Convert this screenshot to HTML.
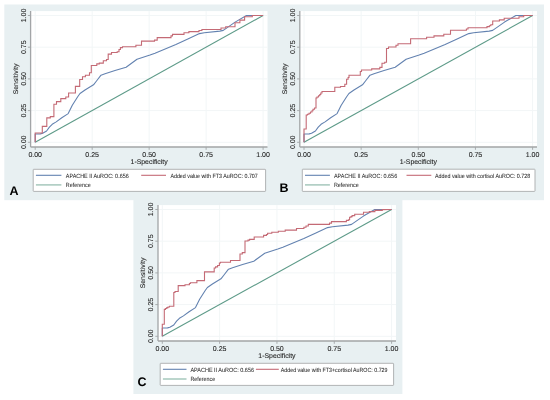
<!DOCTYPE html><html><head><meta charset="utf-8"><style>html,body{margin:0;padding:0;background:#fff;}body{width:550px;height:400px;overflow:hidden;}</style></head><body><svg width="550" height="400" viewBox="0 0 550 400" style="display:block;will-change:transform;filter:blur(0.45px);font-family:'Liberation Sans', sans-serif">
<style>text{fill:#262626;stroke:#262626;stroke-width:0.1px;text-rendering:geometricPrecision} .lg{stroke-width:0.04px}</style>
<rect x="0" y="0" width="550" height="400" fill="#ffffff"/>
<rect x="4.3" y="4.5" width="539.7" height="195.7" fill="#e8f0f2"/>
<rect x="133.4" y="190" width="269" height="204" fill="#e8f0f2"/>
<rect x="30.6" y="11.1" width="236.9" height="135.9" fill="#ffffff"/>
<path d="M35.2 11.1V147M30.6 142.3H267.5M92.18 11.1V147M30.6 110.6H267.5M149.15 11.1V147M30.6 78.9H267.5M206.12 11.1V147M30.6 47.2H267.5M263.1 11.1V147M30.6 15.5H267.5" stroke="#f2f6f7" stroke-width="1" fill="none"/>
<path d="M30.6 11.1V147 M30.6 147H267.5" stroke="#a2a5a7" stroke-width="1.3" fill="none"/>
<path d="M35.2 147V149.8M27.9 142.3H30.6M92.18 147V149.8M27.9 110.6H30.6M149.15 147V149.8M27.9 78.9H30.6M206.12 147V149.8M27.9 47.2H30.6M263.1 147V149.8M27.9 15.5H30.6" stroke="#a2a5a7" stroke-width="0.9" fill="none"/>
<text x="35.2" y="156.8" font-size="7" fill="#262626" text-anchor="middle">0.00</text>
<text transform="translate(26.2 142.3) rotate(-90)" font-size="7" fill="#262626" text-anchor="middle">0.00</text>
<text x="92.18" y="156.8" font-size="7" fill="#262626" text-anchor="middle">0.25</text>
<text transform="translate(26.2 110.6) rotate(-90)" font-size="7" fill="#262626" text-anchor="middle">0.25</text>
<text x="149.15" y="156.8" font-size="7" fill="#262626" text-anchor="middle">0.50</text>
<text transform="translate(26.2 78.9) rotate(-90)" font-size="7" fill="#262626" text-anchor="middle">0.50</text>
<text x="206.12" y="156.8" font-size="7" fill="#262626" text-anchor="middle">0.75</text>
<text transform="translate(26.2 47.2) rotate(-90)" font-size="7" fill="#262626" text-anchor="middle">0.75</text>
<text x="263.1" y="156.8" font-size="7" fill="#262626" text-anchor="middle">1.00</text>
<text transform="translate(26.2 15.5) rotate(-90)" font-size="7" fill="#262626" text-anchor="middle">1.00</text>
<text x="149.15" y="163.8" font-size="6.9" fill="#262626" text-anchor="middle">1-Specificity</text>
<text transform="translate(18.1 78.9) rotate(-90)" font-size="6.8" fill="#262626" text-anchor="middle">Sensitivity</text>
<path d="M35.2 142.3 L263.1 15.5" stroke="#5e9b89" stroke-width="1.1" fill="none"/>
<path d="M35.2 142.3 L35.2 134 L40.4 133.9 L42.7 133.3 L46.6 131 L49.4 127.2 L52.2 124.3 L56.2 121.9 L61.8 117.8 L68.2 113.6 L72.3 105.3 L77.7 96.8 L80 93.5 L85 90 L93.5 84.8 L96.5 81 L101 75.2 L105 73.8 L115 70.6 L126.1 67.2 L137 59.3 L150 55.1 L155 53.2 L175.9 44.6 L187.3 39.3 L199.5 33.6 L204.3 32.8 L219.8 31.1 L223.3 30.4 L235.1 22.1 L246.4 15.5 L263.1 15.5" stroke="#6382b0" stroke-width="1.1" fill="none" stroke-linejoin="round"/>
<path d="M35.2 142.3 L35.2 133 L42.3 133 L42.3 126.4 L46.8 126.4 L46.8 117.9 L50.3 117.9 L50.3 116.6 L53.9 116.6 L53.9 104.3 L56.5 104.3 L56.5 101.6 L60.8 101.6 L60.8 98.6 L65.8 98.6 L65.8 97 L68.6 97 L68.6 93 L75.4 93 L75.4 86.4 L79.7 86.4 L79.7 79.5 L82.5 79.5 L82.5 76.7 L85.4 76.7 L85.4 75.3 L89.5 75.3 L89.5 72.8 L91.3 72.8 L91.3 65.5 L96.8 65.5 L96.8 63.9 L99.3 63.9 L99.3 63.1 L103.3 63.1 L103.3 60.7 L106.5 60.7 L106.5 59.5 L108.2 59.5 L108.2 54.1 L111.5 54.1 L111.5 52.5 L117.2 52.5 L117.2 51.7 L119 51.7 L119 49.5 L120.4 49.5 L120.4 47.6 L122.5 47.6 L122.5 46.8 L135.9 46.8 L135.9 45.2 L141.5 45.2 L141.5 41.1 L154.5 41.1 L154.5 40.1 L157.2 40.1 L157.2 37.6 L171 37.6 L171 35.9 L172.5 35.9 L172.5 34.4 L184 34.4 L184 32.8 L188.9 32.8 L188.9 31.6 L199 31.6 L199 30.5 L201.9 30.5 L201.9 29.5 L221 29.5 L221 28 L225.7 28 L225.7 26.7 L235 26.7 L235 22.7 L239.9 22.7 L239.9 20.1 L244.6 20.1 L244.6 16.8 L252.3 16.8 L252.3 15.5 L263.1 15.5" stroke="#c46a75" stroke-width="1.1" fill="none"/>
<rect x="33.2" y="169.3" width="232.4" height="22.1" rx="0.6" fill="#ffffff" stroke="#a4a6a8" stroke-width="0.85"/>
<path d="M35.9 175.3H61.4" stroke="#6382b0" stroke-width="1.1"/>
<path d="M35.9 184.9H61.4" stroke="#a0c4b8" stroke-width="1.4"/>
<path d="M141.2 175.3H166" stroke="#c46a75" stroke-width="1.1"/>
<text class="lg" x="65.8" y="177.5" font-size="6.0" fill="#262626" textLength="62.9" lengthAdjust="spacingAndGlyphs">APACHE II AuROC: 0.656</text>
<text class="lg" x="65.8" y="186.9" font-size="6.0" fill="#262626" textLength="24.9" lengthAdjust="spacingAndGlyphs">Reference</text>
<text class="lg" x="170.4" y="177.5" font-size="6.0" fill="#262626" textLength="87.4" lengthAdjust="spacingAndGlyphs">Added value with FT3 AuROC: 0.707</text>
<rect x="299.8" y="11.1" width="237.2" height="135.9" fill="#ffffff"/>
<path d="M304 11.1V147M299.8 142.3H537M361.15 11.1V147M299.8 110.6H537M418.3 11.1V147M299.8 78.9H537M475.45 11.1V147M299.8 47.2H537M532.6 11.1V147M299.8 15.5H537" stroke="#f2f6f7" stroke-width="1" fill="none"/>
<path d="M299.8 11.1V147 M299.8 147H537" stroke="#a2a5a7" stroke-width="1.3" fill="none"/>
<path d="M304 147V149.8M297.1 142.3H299.8M361.15 147V149.8M297.1 110.6H299.8M418.3 147V149.8M297.1 78.9H299.8M475.45 147V149.8M297.1 47.2H299.8M532.6 147V149.8M297.1 15.5H299.8" stroke="#a2a5a7" stroke-width="0.9" fill="none"/>
<text x="304" y="156.8" font-size="7" fill="#262626" text-anchor="middle">0.00</text>
<text transform="translate(295.2 142.3) rotate(-90)" font-size="7" fill="#262626" text-anchor="middle">0.00</text>
<text x="361.15" y="156.8" font-size="7" fill="#262626" text-anchor="middle">0.25</text>
<text transform="translate(295.2 110.6) rotate(-90)" font-size="7" fill="#262626" text-anchor="middle">0.25</text>
<text x="418.3" y="156.8" font-size="7" fill="#262626" text-anchor="middle">0.50</text>
<text transform="translate(295.2 78.9) rotate(-90)" font-size="7" fill="#262626" text-anchor="middle">0.50</text>
<text x="475.45" y="156.8" font-size="7" fill="#262626" text-anchor="middle">0.75</text>
<text transform="translate(295.2 47.2) rotate(-90)" font-size="7" fill="#262626" text-anchor="middle">0.75</text>
<text x="532.6" y="156.8" font-size="7" fill="#262626" text-anchor="middle">1.00</text>
<text transform="translate(295.2 15.5) rotate(-90)" font-size="7" fill="#262626" text-anchor="middle">1.00</text>
<text x="418.3" y="163.8" font-size="6.9" fill="#262626" text-anchor="middle">1-Specificity</text>
<text transform="translate(287.1 78.9) rotate(-90)" font-size="6.8" fill="#262626" text-anchor="middle">Sensitivity</text>
<path d="M304 142.3 L532.6 15.5" stroke="#5e9b89" stroke-width="1.1" fill="none"/>
<path d="M304 142.3 L304 134 L309.22 133.9 L311.52 133.3 L315.44 131 L318.24 127.2 L321.05 124.3 L325.06 121.9 L330.68 117.8 L337.1 113.6 L341.21 105.3 L346.63 96.8 L348.94 93.5 L353.95 90 L362.48 84.8 L365.49 81 L370 75.2 L374.01 73.8 L384.05 70.6 L395.18 67.2 L406.11 59.3 L419.15 55.1 L424.17 53.2 L445.13 44.6 L456.57 39.3 L468.8 33.6 L473.62 32.8 L489.17 31.1 L492.68 30.4 L504.51 22.1 L515.85 15.5 L532.6 15.5" stroke="#6382b0" stroke-width="1.1" fill="none" stroke-linejoin="round"/>
<path d="M304 142.3 L304 129 L306.2 129 L306.2 115 L307.5 115 L307.5 114.2 L309 114.2 L309 113.3 L310.5 113.3 L310.5 112 L312 112 L312 110.8 L313 110.8 L313 109.3 L314.5 109.3 L314.5 108 L316 108 L316 98 L317 98 L317 97 L318.5 97 L318.5 95.8 L319.8 95.8 L319.8 94.5 L320.8 94.5 L320.8 93 L322 93 L322 91.5 L334.8 91.5 L334.8 87.3 L340.5 87.3 L340.5 86.5 L344.8 86.5 L344.8 84.2 L346.6 84.2 L346.6 79.3 L348.1 79.3 L348.1 77.5 L349 77.5 L349 75.2 L360.3 75.2 L360.3 71.5 L361.5 71.5 L361.5 70 L371.7 70 L371.7 68.9 L379.8 68.9 L379.8 67.4 L382 67.4 L382 63.2 L384.7 63.2 L384.7 62.2 L386.5 62.2 L386.5 48.5 L388.5 48.5 L388.5 47 L396 47 L396 45.3 L398 45.3 L398 43.8 L410.6 43.8 L410.6 38.8 L426.6 38.8 L426.6 37.2 L434 37.2 L434 35.9 L443.8 35.9 L443.8 34.3 L450.5 34.3 L450.5 30.2 L466.4 30.2 L466.4 29 L468 29 L468 27.8 L487 27.8 L487 26.6 L489.4 26.6 L489.4 25.8 L490.8 25.8 L490.8 24.8 L492.7 24.8 L492.7 21 L499.4 21 L499.4 19.9 L504.2 19.9 L504.2 18.2 L519 18.2 L519 16.8 L523.7 16.8 L523.7 15.5 L532.6 15.5" stroke="#c46a75" stroke-width="1.1" fill="none"/>
<rect x="302.3" y="169.2" width="232.7" height="22.2" rx="0.6" fill="#ffffff" stroke="#a4a6a8" stroke-width="0.85"/>
<path d="M305 175.3H329.9" stroke="#6382b0" stroke-width="1.1"/>
<path d="M305 184.9H329.9" stroke="#a0c4b8" stroke-width="1.4"/>
<path d="M406.5 175.3H431.3" stroke="#c46a75" stroke-width="1.1"/>
<text class="lg" x="333.9" y="177.5" font-size="6.0" fill="#262626" textLength="63.3" lengthAdjust="spacingAndGlyphs">APACHE II AuROC: 0.656</text>
<text class="lg" x="333.9" y="186.9" font-size="6.0" fill="#262626" textLength="24.9" lengthAdjust="spacingAndGlyphs">Reference</text>
<text class="lg" x="434.9" y="177.5" font-size="6.0" fill="#262626" textLength="95.4" lengthAdjust="spacingAndGlyphs">Added value with cortisol AuROC: 0.728</text>
<rect x="158" y="205.1" width="238" height="135.9" fill="#ffffff"/>
<path d="M162.3 205.1V341M158 336.3H396M219.62 205.1V341M158 304.6H396M276.95 205.1V341M158 272.9H396M334.28 205.1V341M158 241.2H396M391.6 205.1V341M158 209.5H396" stroke="#f2f6f7" stroke-width="1" fill="none"/>
<path d="M158 205.1V341 M158 341H396" stroke="#a2a5a7" stroke-width="1.3" fill="none"/>
<path d="M162.3 341V343.8M155.3 336.3H158M219.62 341V343.8M155.3 304.6H158M276.95 341V343.8M155.3 272.9H158M334.28 341V343.8M155.3 241.2H158M391.6 341V343.8M155.3 209.5H158" stroke="#a2a5a7" stroke-width="0.9" fill="none"/>
<text x="162.3" y="350.8" font-size="7" fill="#262626" text-anchor="middle">0.00</text>
<text transform="translate(153.2 336.3) rotate(-90)" font-size="7" fill="#262626" text-anchor="middle">0.00</text>
<text x="219.62" y="350.8" font-size="7" fill="#262626" text-anchor="middle">0.25</text>
<text transform="translate(153.2 304.6) rotate(-90)" font-size="7" fill="#262626" text-anchor="middle">0.25</text>
<text x="276.95" y="350.8" font-size="7" fill="#262626" text-anchor="middle">0.50</text>
<text transform="translate(153.2 272.9) rotate(-90)" font-size="7" fill="#262626" text-anchor="middle">0.50</text>
<text x="334.28" y="350.8" font-size="7" fill="#262626" text-anchor="middle">0.75</text>
<text transform="translate(153.2 241.2) rotate(-90)" font-size="7" fill="#262626" text-anchor="middle">0.75</text>
<text x="391.6" y="350.8" font-size="7" fill="#262626" text-anchor="middle">1.00</text>
<text transform="translate(153.2 209.5) rotate(-90)" font-size="7" fill="#262626" text-anchor="middle">1.00</text>
<text x="276.95" y="357.8" font-size="6.9" fill="#262626" text-anchor="middle">1-Specificity</text>
<text transform="translate(145.1 272.9) rotate(-90)" font-size="6.8" fill="#262626" text-anchor="middle">Sensitivity</text>
<path d="M162.3 336.3 L391.6 209.5" stroke="#5e9b89" stroke-width="1.1" fill="none"/>
<path d="M162.3 336.3 L162.3 328 L167.53 327.9 L169.85 327.3 L173.77 325 L176.59 321.2 L179.4 318.3 L183.43 315.9 L189.06 311.8 L195.5 307.6 L199.63 299.3 L205.06 290.8 L207.38 287.5 L212.41 284 L220.96 278.8 L223.98 275 L228.5 269.2 L232.53 267.8 L242.59 264.6 L253.76 261.2 L264.73 253.3 L277.81 249.1 L282.84 247.2 L303.86 238.6 L315.33 233.3 L327.61 227.6 L332.44 226.8 L348.03 225.1 L351.56 224.4 L363.43 216.1 L374.8 209.5 L391.6 209.5" stroke="#6382b0" stroke-width="1.1" fill="none" stroke-linejoin="round"/>
<path d="M162.3 336.3 L162.3 324.2 L164.3 324.2 L164.3 309.4 L165.5 309.4 L165.5 308.5 L166.8 308.5 L166.8 307.6 L168 307.6 L168 307 L169.5 307 L169.5 306.3 L173.8 306.3 L173.8 292.5 L175 292.5 L175 291.5 L178.2 291.5 L178.2 285.6 L185 285.6 L185 284.75 L189.4 284.75 L189.4 283.5 L190.4 283.5 L190.4 282.75 L196.9 282.75 L196.9 280.6 L204.5 280.6 L204.5 271.9 L214.2 271.9 L214.2 268 L215.6 268 L215.6 266.9 L217.6 266.9 L217.6 265.5 L219.4 265.5 L219.4 263 L220.5 263 L220.5 262.3 L230.5 262.3 L230.5 260.5 L240 260.5 L240 254 L242.3 254 L242.3 252.6 L245 252.6 L245 241 L248 241 L248 240.1 L249.6 240.1 L249.6 239.4 L254.2 239.4 L254.2 237 L263.6 237 L263.6 235.4 L266.5 235.4 L266.5 234.5 L267.6 234.5 L267.6 233.2 L271.8 233.2 L271.8 232.3 L278.3 232.3 L278.3 231.2 L285.2 231.2 L285.2 230.1 L296.5 230.1 L296.5 228.5 L303.9 228.5 L303.9 227.3 L306 227.3 L306 226 L308.3 226 L308.3 224.4 L329.5 224.4 L329.5 223.1 L331.5 223.1 L331.5 221.6 L346.4 221.6 L346.4 220.4 L348.6 220.4 L348.6 219.8 L349.6 219.8 L349.6 217.3 L351 217.3 L351 216.6 L352.1 216.6 L352.1 215.6 L354.7 215.6 L354.7 214.3 L363.5 214.3 L363.5 212.2 L369.3 212.2 L369.3 211.6 L374.9 211.6 L374.9 210.4 L382.3 210.4 L382.3 209.6 L391.6 209.5" stroke="#c46a75" stroke-width="1.1" fill="none"/>
<rect x="160.2" y="363.3" width="233.4" height="22.1" rx="0.6" fill="#ffffff" stroke="#a4a6a8" stroke-width="0.85"/>
<path d="M162.9 369.3H186.5" stroke="#6382b0" stroke-width="1.1"/>
<path d="M162.9 379H186.5" stroke="#a0c4b8" stroke-width="1.4"/>
<path d="M255.9 369.3H278.8" stroke="#c46a75" stroke-width="1.1"/>
<text class="lg" x="190.4" y="371.5" font-size="6.0" fill="#262626" textLength="63.6" lengthAdjust="spacingAndGlyphs">APACHE II AuROC: 0.656</text>
<text class="lg" x="190.4" y="381" font-size="6.0" fill="#262626" textLength="24.9" lengthAdjust="spacingAndGlyphs">Reference</text>
<text class="lg" x="280.8" y="371.5" font-size="6.0" fill="#262626" textLength="106.7" lengthAdjust="spacingAndGlyphs">Added value with FT3+cortisol AuROC: 0.729</text>
<text x="9.4" y="195.1" font-size="12.5" font-weight="bold" style="fill:#000;stroke:none">A</text>
<text x="279.4" y="192.3" font-size="12.5" font-weight="bold" style="fill:#000;stroke:none">B</text>
<text x="137.4" y="386.0" font-size="12.5" font-weight="bold" style="fill:#000;stroke:none">C</text>
</svg></body></html>
